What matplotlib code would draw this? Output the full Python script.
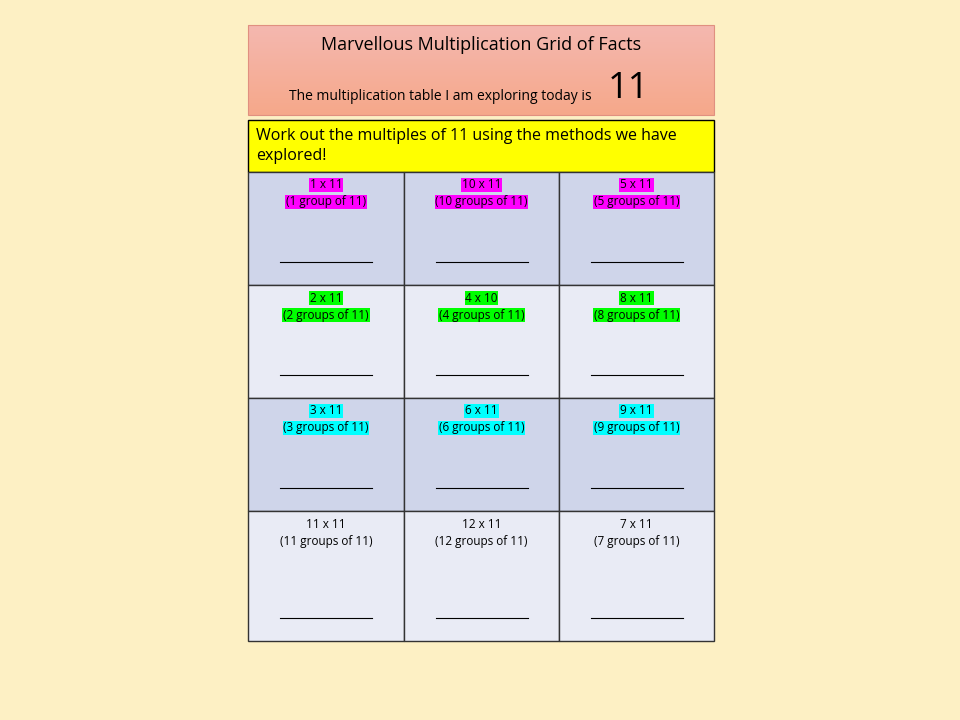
import matplotlib as mpl
mpl.use('Agg')
import matplotlib.pyplot as plt
from matplotlib.patches import Rectangle
import numpy as np

plt.rcParams['font.family'] = ['Open Sans', 'DejaVu Sans']

table_number = 11
title = 'Marvellous Multiplication Grid of Facts'
subtitle = 'The multiplication table I am exploring today is'
task = 'Work out the multiples of 11 using the methods we have\nexplored!'

# cell facts, row by row
facts = [['1 x 11', '10 x 11', '5 x 11'],
         ['2 x 11', '4 x 10', '8 x 11'],
         ['3 x 11', '6 x 11', '9 x 11'],
         ['11 x 11', '12 x 11', '7 x 11']]
groups = [['(1 group of 11)', '(10 groups of 11)', '(5 groups of 11)'],
          ['(2 groups of 11)', '(4 groups of 11)', '(8 groups of 11)'],
          ['(3 groups of 11)', '(6 groups of 11)', '(9 groups of 11)'],
          ['(11 groups of 11)', '(12 groups of 11)', '(7 groups of 11)']]
highlight = ['#ff00ff', '#00ff00', '#00ffff', None]
row_fill = ['#cfd5ea', '#e9ebf5', '#cfd5ea', '#e9ebf5']

col_x = [248, 404, 559, 714]
row_y = [172, 285, 398, 511, 641]

fig = plt.figure(figsize=(9.6, 7.2), dpi=100)
fig.patch.set_facecolor('#fdf0c4')
ax = fig.add_axes([0, 0, 1, 1])
ax.set_xlim(0, 960)
ax.set_ylim(720, 0)
ax.axis('off')

# header with gradient
grad = np.linspace(0, 1, 100).reshape(-1, 1)
cmap = mpl.colors.LinearSegmentedColormap.from_list('hdr', ['#f4b8b0', '#f6a88a'])
ax.imshow(grad, cmap=cmap, extent=[248, 714, 115, 25], aspect='auto', zorder=1)
ax.add_patch(Rectangle((248, 25), 466, 90, fill=False, edgecolor='#e09080', lw=0.8, zorder=2))
ax.text(481, 45, title, ha='center', va='center', fontsize=13, zorder=3)
ax.text(440, 96, subtitle, ha='center', va='center', fontsize=10, zorder=3)
ax.text(628, 89, str(table_number), ha='center', va='center', fontsize=26, zorder=3)

# task box
ax.add_patch(Rectangle((248, 120), 466, 52, facecolor='#ffff00', edgecolor='black', lw=1, zorder=2))
ax.text(256, 146, task, ha='left', va='center', fontsize=11.5, linespacing=1.4, zorder=3)

# grid
for r in range(4):
    for c in range(3):
        x0, x1 = col_x[c], col_x[c + 1]
        y0, y1 = row_y[r], row_y[r + 1]
        ax.add_patch(Rectangle((x0, y0), x1 - x0, y1 - y0, facecolor=row_fill[r],
                               edgecolor='#333333', lw=1, zorder=2))
        xc = (x0 + x1) / 2
        bb = dict(facecolor=highlight[r], edgecolor='none', pad=0.5) if highlight[r] else None
        ax.text(xc, y0 + 13, facts[r][c], ha='center', va='center', fontsize=8.5, bbox=bb, zorder=3)
        ax.text(xc, y0 + 30, groups[r][c], ha='center', va='center', fontsize=8.5, bbox=bb, zorder=3)
        uy = y0 + 90 if r < 3 else y0 + 107
        ax.plot([xc - 46, xc + 46], [uy, uy], color='black', lw=0.8, zorder=3)

plt.savefig('out.png', dpi=100, facecolor=fig.get_facecolor())
